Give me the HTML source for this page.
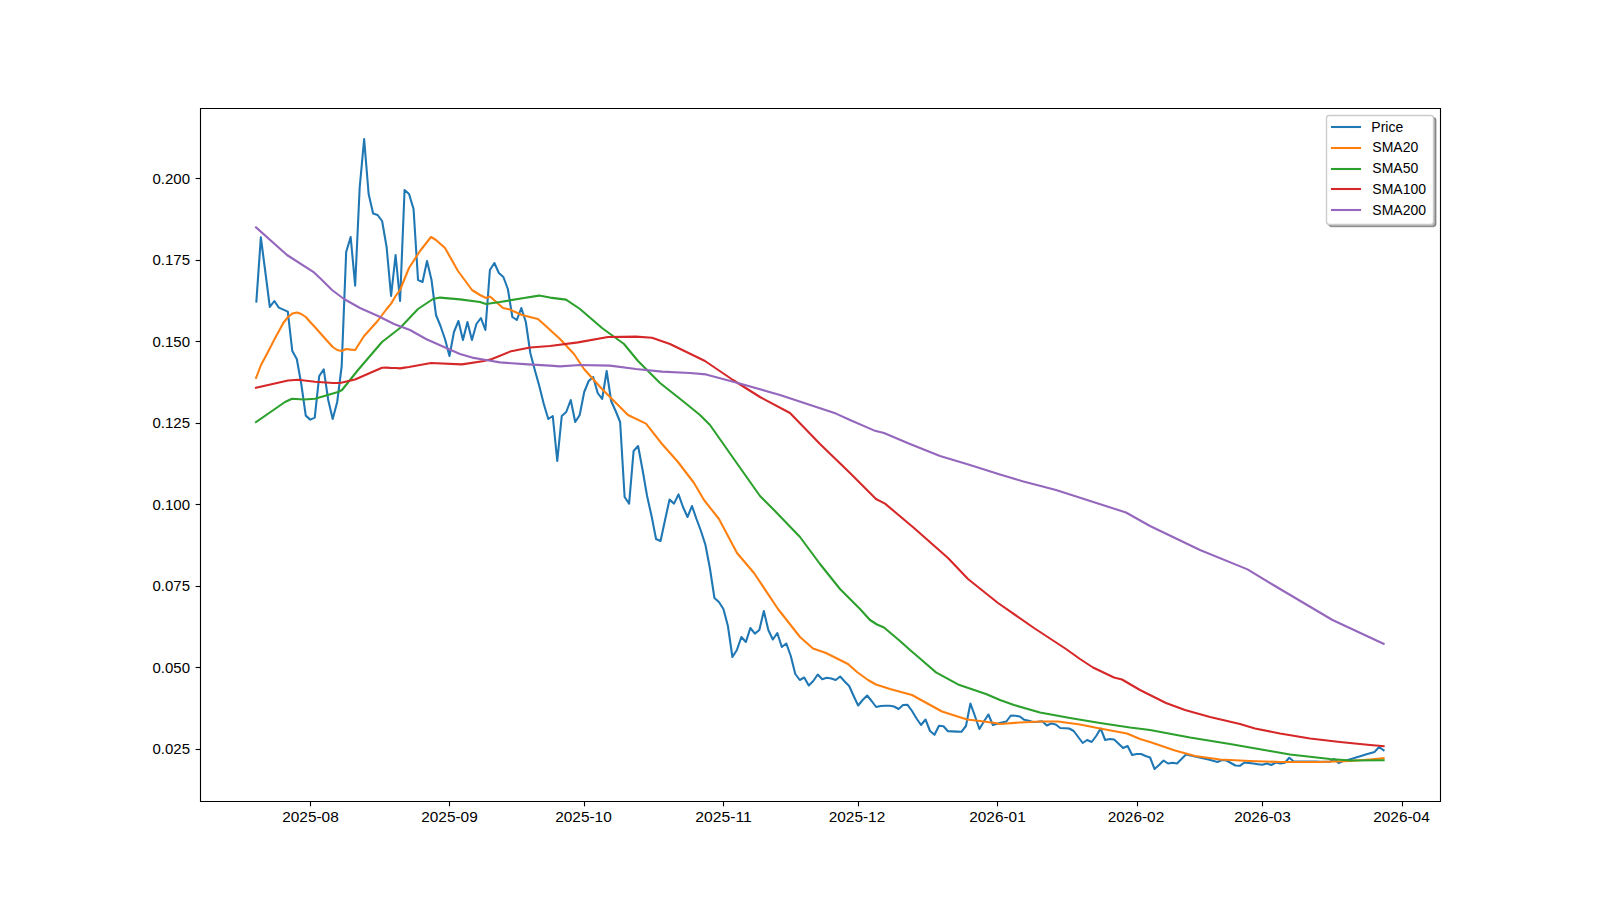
<!DOCTYPE html><html><head><meta charset="utf-8"><style>html,body{margin:0;padding:0;background:#fff;overflow:hidden;}svg{display:block;}text{font-family:"Liberation Sans",sans-serif;font-size:14px;fill:#000;}</style></head><body>
<svg width="1600" height="900" viewBox="0 0 1600 900">
<rect x="0" y="0" width="1600" height="900" fill="#fff"/>
<defs><clipPath id="c"><rect x="200.5" y="108.5" width="1240" height="693"/></clipPath></defs>
<polyline clip-path="url(#c)" points="256.36,301.60 260.85,237.40 265.34,272.00 269.83,307.00 274.32,301.00 278.81,307.60 283.31,309.60 287.80,311.60 292.29,351.00 296.78,359.00 301.27,384.00 305.76,415.60 310.25,419.60 314.74,417.60 319.23,376.00 323.73,369.40 328.22,400.00 332.71,419.00 337.20,402.00 341.69,366.00 346.18,252.00 350.67,237.00 355.16,285.60 359.65,188.00 364.14,139.00 368.63,194.00 373.13,213.60 377.62,215.00 382.11,221.00 386.60,247.00 391.09,296.00 395.58,255.00 400.07,301.00 404.56,190.00 409.05,194.00 413.55,209.00 418.04,280.00 422.53,282.00 427.02,261.00 431.51,280.00 436.00,315.00 440.49,326.00 444.98,339.00 449.47,356.00 453.96,332.00 458.45,321.00 462.95,340.00 467.44,322.00 471.93,340.00 476.42,324.00 480.91,318.00 485.40,330.00 489.89,270.00 494.38,263.00 498.87,273.00 503.37,277.00 507.86,289.00 512.35,317.00 516.84,320.00 521.33,308.00 525.82,322.00 530.31,353.00 534.80,370.00 539.29,386.00 543.78,404.00 548.27,419.00 552.77,416.00 557.26,461.00 561.75,416.00 566.24,412.00 570.73,400.00 575.22,422.00 579.71,415.00 584.20,392.00 588.69,381.00 593.18,377.00 597.68,393.00 602.17,399.00 606.66,371.00 611.15,401.00 615.64,411.00 620.13,422.00 624.62,497.00 629.11,503.60 633.60,451.00 638.10,446.00 642.59,470.00 647.08,496.00 651.57,516.00 656.06,539.00 660.55,541.00 665.04,520.00 669.53,499.60 674.02,503.60 678.51,494.40 683.00,507.00 687.50,517.00 691.99,506.00 696.48,519.00 700.97,531.00 705.46,545.00 709.95,568.50 714.44,598.00 718.93,602.00 723.42,609.00 727.91,626.00 732.41,657.00 736.90,650.00 741.39,637.00 745.88,642.00 750.37,628.00 754.86,633.60 759.35,630.00 763.84,611.00 768.33,630.00 772.82,639.50 777.32,633.00 781.81,647.00 786.30,643.50 790.79,656.00 795.28,674.00 799.77,680.00 804.26,677.50 808.75,685.50 813.24,681.00 817.74,674.50 822.23,679.20 826.72,677.80 831.21,678.50 835.70,680.00 840.19,676.50 844.68,681.50 849.17,686.00 853.66,696.00 858.15,705.50 862.64,700.00 867.14,695.50 871.63,701.00 876.12,707.00 880.61,706.00 885.10,705.80 889.59,705.80 894.08,706.50 898.57,709.00 903.06,705.00 907.55,704.80 912.05,711.00 916.54,718.50 921.03,725.00 925.52,719.50 930.01,731.00 934.50,734.80 938.99,725.80 943.48,726.20 947.97,731.20 952.46,731.40 956.96,731.60 961.45,731.80 965.94,726.00 970.43,703.50 974.92,716.00 979.41,729.00 983.90,721.50 988.39,714.50 992.88,725.00 997.38,723.80 1001.87,722.40 1006.36,721.50 1010.85,715.50 1015.34,715.80 1019.83,716.50 1024.32,719.80 1028.81,720.80 1033.30,722.00 1037.79,721.80 1042.28,721.20 1046.78,725.50 1051.27,723.50 1055.76,724.50 1060.25,728.00 1064.74,728.20 1069.23,728.50 1073.72,731.00 1078.21,737.00 1082.70,743.00 1087.19,740.00 1091.69,742.00 1096.18,736.00 1100.67,728.50 1105.16,740.00 1109.65,739.00 1114.14,739.50 1118.63,743.80 1123.12,748.00 1127.61,746.00 1132.11,755.00 1136.60,754.00 1141.09,754.00 1145.58,756.00 1150.07,757.50 1154.56,769.00 1159.05,765.00 1163.54,760.50 1168.03,763.50 1172.52,762.80 1177.01,763.50 1181.51,759.00 1186.00,754.50 1190.49,755.50 1194.98,756.50 1199.47,757.50 1203.96,758.50 1208.45,759.50 1212.94,760.70 1217.43,762.00 1221.92,760.00 1226.42,760.50 1230.91,763.00 1235.40,765.50 1239.89,765.80 1244.38,762.50 1248.87,763.00 1253.36,763.50 1257.85,764.20 1262.34,764.80 1266.84,763.50 1271.33,765.00 1275.82,762.50 1280.31,763.50 1284.80,762.80 1289.29,757.80 1293.78,761.50 1298.27,761.50 1302.76,761.50 1307.25,761.60 1311.74,761.60 1316.24,761.60 1320.73,761.80 1325.22,761.80 1329.71,761.80 1334.20,759.00 1338.69,763.00 1343.18,761.00 1347.67,760.00 1352.16,758.70 1356.65,757.30 1361.15,756.00 1365.64,754.60 1370.13,753.20 1374.62,751.90 1379.11,747.00 1383.60,750.30" fill="none" stroke="#1f77b4" stroke-width="2.083" stroke-linejoin="round" stroke-linecap="square"/>
<polyline clip-path="url(#c)" points="256.00,378.00 261.00,365.00 265.30,357.00 270.00,348.00 274.30,339.60 279.00,331.00 283.30,323.00 288.00,317.00 292.30,313.60 297.00,312.60 301.30,314.00 305.80,317.00 310.20,322.00 314.80,327.00 319.30,332.00 323.70,337.00 328.20,342.00 332.70,347.00 337.20,350.00 341.70,351.00 346.20,349.00 350.70,349.60 355.20,350.00 359.60,343.00 364.10,336.00 368.60,331.00 373.10,326.00 377.60,321.00 382.10,315.00 386.60,309.00 391.10,303.60 395.60,296.00 400.00,290.00 409.00,268.00 420.00,251.00 431.00,237.00 436.00,240.00 445.00,248.00 458.00,271.00 472.00,290.00 480.00,295.00 486.00,298.00 490.00,296.50 503.00,308.00 510.00,309.60 522.00,315.00 538.00,319.00 548.00,328.00 560.00,339.00 574.00,354.00 584.00,369.00 602.00,389.00 628.00,415.00 646.00,423.60 662.00,444.00 678.00,462.00 694.00,483.00 704.00,500.00 719.00,519.00 737.00,553.00 754.00,573.00 778.00,609.00 800.00,637.00 813.00,648.50 826.00,653.00 848.00,664.00 857.00,672.00 868.00,680.00 876.00,684.50 890.00,689.00 912.00,695.00 942.00,711.50 967.00,719.50 980.00,721.00 995.00,723.00 1000.00,724.00 1020.00,722.50 1040.00,721.50 1058.00,721.50 1080.00,724.50 1100.00,728.50 1127.00,733.50 1140.00,739.00 1150.00,742.00 1175.00,750.50 1195.00,756.00 1220.00,759.50 1250.00,761.00 1280.00,762.00 1290.00,762.00 1320.00,762.00 1350.00,761.00 1370.00,759.50 1383.60,758.20" fill="none" stroke="#ff7f0e" stroke-width="2.083" stroke-linejoin="round" stroke-linecap="square"/>
<polyline clip-path="url(#c)" points="256.00,422.00 285.00,402.00 292.00,398.80 304.00,399.50 315.00,398.80 338.00,392.00 342.00,390.00 358.00,370.00 382.00,342.00 400.00,328.00 418.00,309.00 433.00,299.00 440.00,297.60 460.00,299.40 480.00,302.00 486.00,304.00 500.00,302.00 524.00,298.00 539.00,295.60 550.00,297.60 566.00,299.60 580.00,309.00 602.00,328.00 624.00,344.00 638.00,361.00 660.00,383.00 684.00,402.00 700.00,415.00 710.00,425.00 736.00,462.00 760.00,496.00 774.00,510.00 800.00,537.00 820.00,564.00 840.00,589.00 860.00,609.00 870.00,620.00 877.00,624.50 884.00,627.50 900.00,641.00 910.00,650.00 920.00,658.50 936.00,672.40 958.00,684.40 986.00,694.00 1000.00,700.00 1014.00,705.00 1040.00,712.50 1070.00,718.00 1100.00,723.00 1130.00,727.50 1150.00,730.00 1190.00,737.50 1230.00,744.00 1270.00,751.00 1290.00,754.50 1310.00,756.80 1330.00,759.00 1350.00,760.50 1383.60,760.20" fill="none" stroke="#2ca02c" stroke-width="2.083" stroke-linejoin="round" stroke-linecap="square"/>
<polyline clip-path="url(#c)" points="256.00,387.80 288.00,380.50 298.00,379.80 315.00,381.80 333.00,383.00 340.00,383.00 355.00,379.50 382.00,367.80 386.60,367.60 391.10,368.00 395.60,368.00 400.10,368.40 404.60,367.60 409.00,367.00 431.00,363.00 462.00,364.40 484.00,361.00 492.00,359.00 510.00,351.60 530.00,347.50 550.00,346.00 578.00,342.40 608.00,337.00 636.00,336.60 652.00,337.80 670.00,344.00 705.00,361.00 733.00,380.00 760.00,397.00 790.00,413.00 820.00,444.00 850.00,473.00 876.00,499.00 885.00,503.60 914.00,528.00 948.00,558.00 968.00,579.00 998.00,603.00 1034.00,628.00 1066.00,649.00 1080.00,659.00 1093.00,667.50 1114.00,677.50 1122.00,679.50 1140.00,690.00 1166.00,703.00 1185.00,710.00 1210.00,717.00 1240.00,724.00 1255.00,728.50 1280.00,733.50 1310.00,738.50 1340.00,742.00 1370.00,745.00 1383.60,746.20" fill="none" stroke="#d62728" stroke-width="2.083" stroke-linejoin="round" stroke-linecap="square"/>
<polyline clip-path="url(#c)" points="256.00,227.40 287.00,255.00 314.00,272.40 322.00,280.00 332.00,290.00 344.00,299.00 360.00,308.00 378.00,316.00 394.00,324.00 410.00,330.00 426.00,339.00 444.00,347.00 460.00,354.00 472.00,357.60 486.00,360.00 500.00,362.40 528.00,364.40 550.00,365.60 560.00,366.40 580.00,365.00 610.00,365.60 636.00,369.00 662.00,371.60 690.00,373.00 706.00,374.40 736.00,382.40 780.00,395.00 836.00,413.60 850.00,420.00 874.00,430.40 884.00,433.00 910.00,444.00 940.00,456.00 970.00,465.00 1000.00,474.40 1022.50,481.20 1056.00,490.00 1126.00,512.50 1150.00,526.00 1200.00,550.00 1247.50,569.40 1275.00,586.00 1332.50,620.00 1383.60,643.75" fill="none" stroke="#9467bd" stroke-width="2.083" stroke-linejoin="round" stroke-linecap="square"/>
<path d="M200.5,108.5H1440.5V801.5H200.5Z" fill="none" stroke="#000" stroke-width="1.111" stroke-linecap="square"/>
<line x1="310.5" y1="801.5" x2="310.5" y2="806.36" stroke="#000" stroke-width="1.111"/>
<text x="310.5" y="822" text-anchor="middle" textLength="56.5" lengthAdjust="spacingAndGlyphs">2025-08</text>
<line x1="449.5" y1="801.5" x2="449.5" y2="806.36" stroke="#000" stroke-width="1.111"/>
<text x="449.5" y="822" text-anchor="middle" textLength="56.5" lengthAdjust="spacingAndGlyphs">2025-09</text>
<line x1="584.5" y1="801.5" x2="584.5" y2="806.36" stroke="#000" stroke-width="1.111"/>
<text x="583.5" y="822" text-anchor="middle" textLength="56.5" lengthAdjust="spacingAndGlyphs">2025-10</text>
<line x1="723.5" y1="801.5" x2="723.5" y2="806.36" stroke="#000" stroke-width="1.111"/>
<text x="723.5" y="822" text-anchor="middle" textLength="56.5" lengthAdjust="spacingAndGlyphs">2025-11</text>
<line x1="858.5" y1="801.5" x2="858.5" y2="806.36" stroke="#000" stroke-width="1.111"/>
<text x="857.0" y="822" text-anchor="middle" textLength="56.5" lengthAdjust="spacingAndGlyphs">2025-12</text>
<line x1="997.5" y1="801.5" x2="997.5" y2="806.36" stroke="#000" stroke-width="1.111"/>
<text x="997.5" y="822" text-anchor="middle" textLength="56.5" lengthAdjust="spacingAndGlyphs">2026-01</text>
<line x1="1137.5" y1="801.5" x2="1137.5" y2="806.36" stroke="#000" stroke-width="1.111"/>
<text x="1136.0" y="822" text-anchor="middle" textLength="56.5" lengthAdjust="spacingAndGlyphs">2026-02</text>
<line x1="1262.5" y1="801.5" x2="1262.5" y2="806.36" stroke="#000" stroke-width="1.111"/>
<text x="1262.5" y="822" text-anchor="middle" textLength="56.5" lengthAdjust="spacingAndGlyphs">2026-03</text>
<line x1="1402.5" y1="801.5" x2="1402.5" y2="806.36" stroke="#000" stroke-width="1.111"/>
<text x="1401.5" y="822" text-anchor="middle" textLength="56.5" lengthAdjust="spacingAndGlyphs">2026-04</text>
<line x1="195.64" y1="178.5" x2="200.5" y2="178.5" stroke="#000" stroke-width="1.111"/>
<text x="190" y="184" text-anchor="end" textLength="37.5" lengthAdjust="spacingAndGlyphs">0.200</text>
<line x1="195.64" y1="260.5" x2="200.5" y2="260.5" stroke="#000" stroke-width="1.111"/>
<text x="190" y="265" text-anchor="end" textLength="37.5" lengthAdjust="spacingAndGlyphs">0.175</text>
<line x1="195.64" y1="341.5" x2="200.5" y2="341.5" stroke="#000" stroke-width="1.111"/>
<text x="190" y="347" text-anchor="end" textLength="37.5" lengthAdjust="spacingAndGlyphs">0.150</text>
<line x1="195.64" y1="423.5" x2="200.5" y2="423.5" stroke="#000" stroke-width="1.111"/>
<text x="190" y="428" text-anchor="end" textLength="37.5" lengthAdjust="spacingAndGlyphs">0.125</text>
<line x1="195.64" y1="504.5" x2="200.5" y2="504.5" stroke="#000" stroke-width="1.111"/>
<text x="190" y="510" text-anchor="end" textLength="37.5" lengthAdjust="spacingAndGlyphs">0.100</text>
<line x1="195.64" y1="586.5" x2="200.5" y2="586.5" stroke="#000" stroke-width="1.111"/>
<text x="190" y="591" text-anchor="end" textLength="37.5" lengthAdjust="spacingAndGlyphs">0.075</text>
<line x1="195.64" y1="667.5" x2="200.5" y2="667.5" stroke="#000" stroke-width="1.111"/>
<text x="190" y="673" text-anchor="end" textLength="37.5" lengthAdjust="spacingAndGlyphs">0.050</text>
<line x1="195.64" y1="749.5" x2="200.5" y2="749.5" stroke="#000" stroke-width="1.111"/>
<text x="190" y="754" text-anchor="end" textLength="37.5" lengthAdjust="spacingAndGlyphs">0.025</text>
<path d="M1331.6299999999999,117.6H1433.07Q1435.85,117.6 1435.85,120.38V223.82Q1435.85,226.6 1433.07,226.6H1331.6299999999999Q1328.85,226.6 1328.85,223.82V120.38Q1328.85,117.6 1331.6299999999999,117.6Z" fill="#4d4d4d" fill-opacity="0.5" stroke="#4d4d4d" stroke-opacity="0.5" stroke-width="1.389"/>
<path d="M1329.28,115.5H1430.72Q1433.5,115.5 1433.5,118.28V221.72Q1433.5,224.5 1430.72,224.5H1329.28Q1326.5,224.5 1326.5,221.72V118.28Q1326.5,115.5 1329.28,115.5Z" fill="#fff" stroke="#ccc" stroke-width="1.389"/>
<line x1="1332" y1="127" x2="1360" y2="127" stroke="#1f77b4" stroke-width="2.083" stroke-linecap="square"/>
<text x="1371.3" y="132">Price</text>
<line x1="1332" y1="148" x2="1360" y2="148" stroke="#ff7f0e" stroke-width="2.083" stroke-linecap="square"/>
<text x="1372.3" y="152">SMA20</text>
<line x1="1332" y1="169" x2="1360" y2="169" stroke="#2ca02c" stroke-width="2.083" stroke-linecap="square"/>
<text x="1372.3" y="173">SMA50</text>
<line x1="1332" y1="189" x2="1360" y2="189" stroke="#d62728" stroke-width="2.083" stroke-linecap="square"/>
<text x="1372.3" y="194">SMA100</text>
<line x1="1332" y1="210" x2="1360" y2="210" stroke="#9467bd" stroke-width="2.083" stroke-linecap="square"/>
<text x="1372.3" y="215">SMA200</text>
</svg></body></html>
